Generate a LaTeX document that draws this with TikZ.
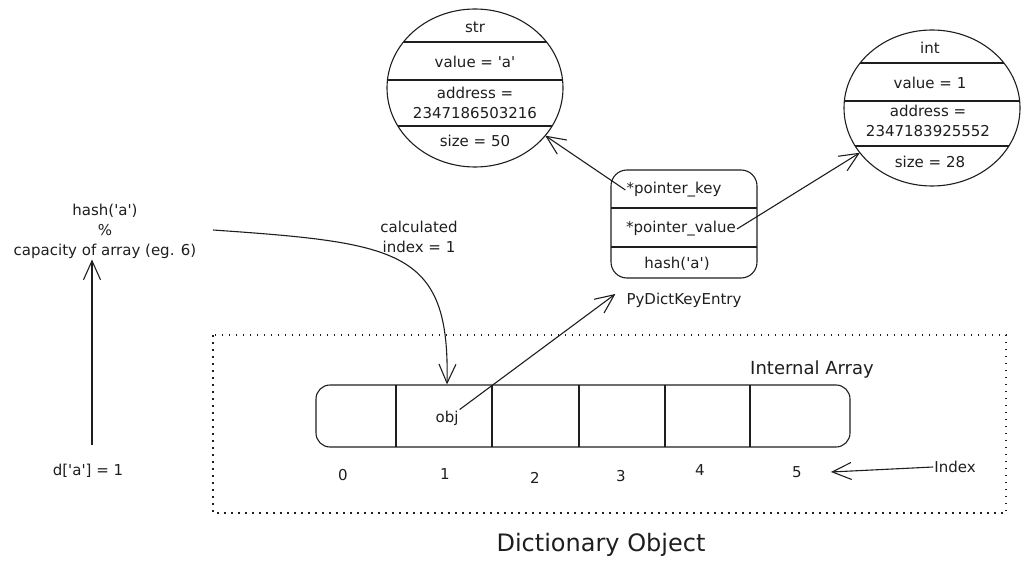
\documentclass[tikz,border=0pt]{standalone}
\usepackage{fontspec}
\newfontfamily\hand{DejaVu Sans}
\usetikzlibrary{arrows.meta,shapes.geometric}
\definecolor{ink}{HTML}{1E1E1E}
\begin{document}
\begin{tikzpicture}[x=1pt,y=-1pt,
  every node/.style={font=\hand\fontsize{15}{20}\selectfont, text=ink, inner sep=1pt},
  ln/.style={draw=ink, line width=1.1pt},
  arr/.style={ln, -{Straight Barb[length=19pt,width=17pt]}},
  ell/.style={ellipse, draw=ink, line width=1.1pt, inner sep=0pt, outer sep=0pt},
]
\useasboundingbox (0,0) rectangle (1030,572);

% ---- str object
\node[ell, minimum width=176pt, minimum height=158pt] (strc) at (475,88) {};
\begin{scope}
  \clip (475,88) ellipse [x radius=88pt, y radius=79pt];
  \draw[ln] (380,42) -- (570,42);
  \draw[ln] (380,80) -- (570,80);
  \draw[ln] (380,126) -- (570,126);
\end{scope}
\node (strt) at (475,27) {str};
\node (strv) at (475,62) {value = 'a'};
\node[align=center] (stra) at (475,103) {address =\\2347186503216};
\node (strs) at (475,141) {size = 50};

% ---- int object
\node[ell, minimum width=176pt, minimum height=156pt] (intc) at (932,108) {};
\begin{scope}
  \clip (932,108) ellipse [x radius=88pt, y radius=78pt];
  \draw[ln] (840,63) -- (1025,63);
  \draw[ln] (840,101) -- (1025,101);
  \draw[ln] (840,146) -- (1025,146);
\end{scope}
\node (intt) at (930,48) {int};
\node (intv) at (930,83) {value = 1};
\node[align=center] (inta) at (928,121) {address =\\2347183925552};
\node (ints) at (930,162) {size = 28};

% ---- PyDictKeyEntry
\node[draw=ink, line width=1.1pt, rounded corners=16pt, minimum width=146pt, minimum height=108pt, inner sep=0pt] (entry) at (684,224) {};
\draw[ln] (611,208) -- (757,208);
\draw[ln] (611,247) -- (757,247);
\node (pk) at (674,190) {*pointer\_key};
\node (pv) at (681,229) {*pointer\_value};
\node (eh) at (677,264) {hash('a')};
\node (pde) at (684,300) {PyDictKeyEntry};

% ---- left calculation
\node[align=center] (hm) at (105,231) {hash('a')\\\%\\capacity of array (eg. 6)};
\node (da) at (88,471) {d['a'] = 1};
\coordinate (ax) at (92,0);
\draw[arr, shorten <=18pt] (da.north -| ax) -- (hm.south -| ax);

% ---- dictionary object
\draw[ink, line width=1.2pt, dash pattern=on 1.5pt off 5.5pt] (213,335) rectangle (1006,513);
\node[font=\hand\fontsize{24}{28}\selectfont] (dobj) at (601,545) {Dictionary Object};

\node[draw=ink, line width=1.1pt, rounded corners=14pt, minimum width=534pt, minimum height=62pt, inner sep=0pt] (arrbox) at (583,416) {};
\foreach \x in {396,492,579,665,750} \draw[ln] (\x,385) -- (\x,447);
\node[font=\hand\fontsize{18}{22}\selectfont] (ia) at (812,370) {Internal Array};
\node (obj) at (447,418) {obj};

\node (n0) at (343,475) {0};
\node (n1) at (445,474) {1};
\node (n2) at (535,478) {2};
\node (n3) at (621,476) {3};
\node (n4) at (700,470) {4};
\node (n5) at (797,472) {5};
\node (idx) at (955,467) {Index};
\draw[arr] (idx.west) -- ([xshift=28pt]n5.east);

% ---- calculated index curve
\node[align=center] (calc) at (419,237) {calculated\\index = 1};
\coordinate (cs) at (213,230);
\draw[arr] (cs) .. controls (400,243) and (450,250) .. (obj |- arrbox.north);

% ---- pointers
\draw[arr] (pk.west) -- (strc);
\draw[arr] (pv.east) -- (intc);
\draw[arr] (obj.north east) -- ([xshift=-10pt,yshift=6pt]pde.west);
\end{tikzpicture}
\end{document}
